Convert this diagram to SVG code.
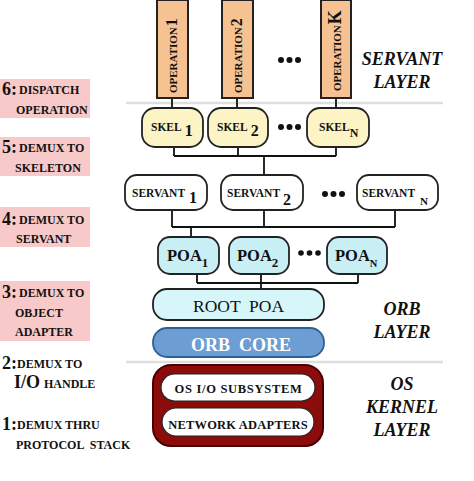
<svg xmlns="http://www.w3.org/2000/svg" width="474" height="481" viewBox="0 0 474 481">
<style>
text{font-family:"Liberation Serif","Times New Roman",serif;font-weight:bold;fill:#111}
.pink{fill:#f8c9c9}
.op{fill:#f6c292;stroke:#222;stroke-width:2}
.skel{fill:#fcf4c4;stroke:#222;stroke-width:1.8}
.srv{fill:#fff;stroke:#222;stroke-width:1.8}
.poa{fill:#c8eff3;stroke:#222;stroke-width:1.8}
.conn{fill:none;stroke:#111;stroke-width:1.8}
.sep{stroke:#dedede;stroke-width:2.5}
.lay{font-style:italic;font-size:18px;text-anchor:middle}
.big{font-size:18px}
.sm{font-size:12px}
.dot{fill:#111}
</style>
<rect width="474" height="481" fill="#fff"/>
<g id="separators">
<line class="sep" x1="126" y1="103" x2="443" y2="103"/>
<line class="sep" x1="126" y1="362" x2="443" y2="362"/>
</g>
<g id="connectors">
<path class="conn" d="M172 98V108M237 98V108M336 98V108"/>
<path class="conn" d="M174 147V156M238 147V156M336 147V156M174 156H336M264 156V175"/>
<path class="conn" d="M172 210V227M264 210V227M395 210V227M172 227H395M191 227V237"/>
<path class="conn" d="M197 274V283M261 274V283M358 274V283M197 283H358M261 283V289"/>
</g>
<g id="op1"><rect class="op" x="157" y="0" width="31" height="98"/>
<text transform="translate(176.5,93) rotate(-90)"><tspan font-size="11">OPERATION</tspan><tspan font-size="16" dx="1">1</tspan></text></g>
<g id="op2"><rect class="op" x="222" y="0" width="31" height="98"/>
<text transform="translate(241.5,93) rotate(-90)"><tspan font-size="11">OPERATION</tspan><tspan font-size="16" dx="1">2</tspan></text></g>
<g id="opk"><rect class="op" x="321" y="0" width="30" height="98"/>
<text transform="translate(340.5,91) rotate(-90)"><tspan font-size="11">OPERATION</tspan><tspan font-size="18" dx="1">K</tspan></text></g>
<g id="opdots"><circle class="dot" cx="281" cy="60" r="3"/><circle class="dot" cx="289.5" cy="60" r="3"/><circle class="dot" cx="298" cy="60" r="3"/></g>
<g id="skel1"><rect class="skel" x="142" y="108" width="61" height="39" rx="13"/>
<text x="151" y="131"><tspan font-size="11.5">SKEL</tspan><tspan font-size="16" dx="3" dy="5">1</tspan></text></g>
<g id="skel2"><rect class="skel" x="208" y="108" width="60" height="39" rx="13"/>
<text x="217" y="131"><tspan font-size="11.5">SKEL</tspan><tspan font-size="16" dx="3" dy="5">2</tspan></text></g>
<g id="skeln"><rect class="skel" x="307" y="108" width="62" height="39" rx="13"/>
<text x="319" y="131"><tspan font-size="11.5">SKEL</tspan><tspan font-size="12" dx="0" dy="6">N</tspan></text></g>
<g id="skeldots"><circle class="dot" cx="281" cy="127" r="3"/><circle class="dot" cx="289.5" cy="127" r="3"/><circle class="dot" cx="298" cy="127" r="3"/></g>
<g id="servant1"><rect class="srv" x="125" y="175" width="82" height="35" rx="12"/>
<text x="132" y="197"><tspan font-size="11.5">SERVANT</tspan><tspan font-size="16" dx="4" dy="6">1</tspan></text></g>
<g id="servant2"><rect class="srv" x="221" y="175" width="82" height="35" rx="12"/>
<text x="227" y="197"><tspan font-size="11.5">SERVANT</tspan><tspan font-size="16" dx="3" dy="8">2</tspan></text></g>
<g id="servantn"><rect class="srv" x="357" y="175" width="81" height="35" rx="12"/>
<text x="362" y="197"><tspan font-size="11.5">SERVANT</tspan><tspan font-size="11" dx="5" dy="8">N</tspan></text></g>
<g id="servdots"><circle class="dot" cx="325" cy="194" r="3"/><circle class="dot" cx="333.5" cy="194" r="3"/><circle class="dot" cx="342" cy="194" r="3"/></g>
<g id="poa1"><rect class="poa" x="158" y="237" width="61" height="37" rx="12"/>
<text x="167" y="261"><tspan font-size="16.5">POA</tspan><tspan font-size="13" dy="6">1</tspan></text></g>
<g id="poa2"><rect class="poa" x="229" y="237" width="60" height="37" rx="12"/>
<text x="237" y="261"><tspan font-size="16.5">POA</tspan><tspan font-size="13" dy="6">2</tspan></text></g>
<g id="poan"><rect class="poa" x="327" y="237" width="60" height="37" rx="12"/>
<text x="335" y="261"><tspan font-size="16.5">POA</tspan><tspan font-size="10.5" dy="6">N</tspan></text></g>
<g id="poadots"><circle class="dot" cx="301" cy="253" r="2.8"/><circle class="dot" cx="309.5" cy="253" r="2.8"/><circle class="dot" cx="318" cy="253" r="2.8"/></g>
<g id="rootpoa"><rect x="153" y="289" width="171" height="31" rx="14" fill="#d7f6f9" stroke="#222" stroke-width="1.8"/>
<text x="238.5" y="312" font-size="17.5" font-weight="normal" text-anchor="middle" style="white-space:pre;font-weight:normal">ROOT  POA</text></g>
<g id="orbcore"><rect x="153" y="328" width="171" height="29" rx="14" fill="#6c9dd3" stroke="#2f5f95" stroke-width="1.8"/>
<text x="241" y="351" font-size="18" text-anchor="middle" style="white-space:pre;fill:#fff">ORB  CORE</text></g>
<g id="oskernel"><rect x="153" y="365" width="170" height="81" rx="18" fill="#8c0c0c" stroke="#4a0000" stroke-width="2"/>
<rect x="161" y="374" width="154" height="27" rx="13.5" fill="#fff" stroke="#222" stroke-width="1.2"/>
<rect x="162" y="408" width="152" height="28" rx="14" fill="#fff" stroke="#222" stroke-width="1.2"/>
<text x="238.5" y="393" font-size="12.5" text-anchor="middle" letter-spacing="0.7">OS I/O SUBSYSTEM</text>
<text x="238" y="429" font-size="12.5" text-anchor="middle" letter-spacing="0.2">NETWORK ADAPTERS</text></g>
<g id="layers">
<text class="lay" x="402" y="65">SERVANT</text><text class="lay" x="402" y="88">LAYER</text>
<text class="lay" x="402" y="315">ORB</text><text class="lay" x="402" y="338">LAYER</text>
<text class="lay" x="402" y="390">OS</text><text class="lay" x="402" y="413">KERNEL</text><text class="lay" x="402" y="436">LAYER</text>
</g>
<g id="step6"><rect class="pink" x="0" y="79" width="90" height="39"/>
<text x="2" y="95" class="big">6:</text><text x="19" y="94" class="sm">DISPATCH</text><text x="16" y="114" class="sm">OPERATION</text></g>
<g id="step5"><rect class="pink" x="0" y="137" width="90" height="39"/>
<text x="2" y="153" class="big">5:</text><text x="19" y="152" class="sm">DEMUX TO</text><text x="15" y="172" class="sm">SKELETON</text></g>
<g id="step4"><rect class="pink" x="0" y="207" width="90" height="40"/>
<text x="2" y="225" class="big">4:</text><text x="19" y="224" class="sm">DEMUX TO</text><text x="16" y="243" class="sm">SERVANT</text></g>
<g id="step3"><rect class="pink" x="0" y="281" width="90" height="60"/>
<text x="2" y="298" class="big">3:</text><text x="19" y="297" class="sm">DEMUX TO</text><text x="15" y="317" class="sm">OBJECT</text><text x="15" y="336" class="sm">ADAPTER</text></g>
<g id="step2">
<text x="2" y="369" class="big">2:</text><text x="17" y="368" class="sm">DEMUX TO</text><text x="14" y="388"><tspan font-size="18">I/O</tspan><tspan font-size="12" dx="4">HANDLE</tspan></text></g>
<g id="step1">
<text x="2" y="430" class="big">1:</text><text x="17" y="429" class="sm">DEMUX THRU</text><text x="16" y="449" class="sm" style="white-space:pre">PROTOCOL  STACK</text></g>
</svg>
